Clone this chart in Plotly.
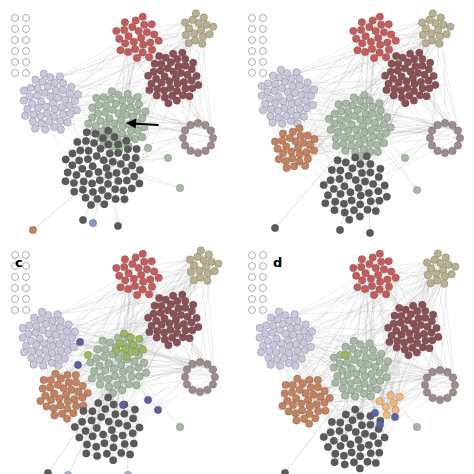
import numpy as np
import plotly.graph_objects as go
from plotly.subplots import make_subplots

# cluster tables per panel: (cx, cy, count, radius, colour, ring)
panel_a = [(130,30,26,23,'#c65b5b',0),(190,22,16,17,'#b8b08e',0),(165,70,45,27,'#8b5055',0),
           (42,95,50,30,'#c9c6de',0),(110,112,55,31,'#a6b9a3',0),(95,160,65,40,'#5a5a5a',0),
           (190,130,12,15,'#9e8b8c',1)]
panel_b = [(130,30,26,23,'#c65b5b',0),(190,22,16,17,'#b8b08e',0),(165,70,45,27,'#8b5055',0),
           (42,90,50,29,'#c9c6de',0),(115,118,60,32,'#a6b9a3',0),(50,140,28,22,'#c4825e',0),
           (110,180,45,34,'#5a5a5a',0),(200,130,12,15,'#9e8b8c',1)]
panel_c = [(130,30,26,23,'#c65b5b',0),(195,22,16,17,'#b8b08e',0),(165,75,45,27,'#8b5055',0),
           (40,95,50,29,'#c9c6de',0),(110,120,45,30,'#a6b9a3',0),(122,100,10,15,'#9cb85a',0),
           (55,150,35,25,'#c4825e',0),(100,185,40,34,'#5a5a5a',0),(192,132,12,15,'#9e8b8c',1)]
panel_d = [(130,30,26,23,'#c65b5b',0),(195,25,16,17,'#b8b08e',0),(168,85,45,27,'#8b5055',0),
           (40,95,50,29,'#c9c6de',0),(115,125,50,30,'#a6b9a3',0),(60,155,35,25,'#c4825e',0),
           (110,195,40,32,'#5a5a5a',0),(145,158,7,13,'#f0b97a',0),(195,140,12,15,'#9e8b8c',1)]
singles_a = [(75,212,'#5a5a5a'),(110,218,'#5a5a5a'),(85,215,'#8a95c8'),(25,222,'#c4825e'),
             (172,180,'#a6b9a3'),(160,150,'#a6b9a3'),(140,140,'#a6b9a3')]
singles_b = [(30,220,'#5a5a5a'),(125,225,'#5a5a5a'),(95,222,'#5a5a5a'),(172,182,'#a6b9a3'),(160,150,'#a6b9a3')]
singles_c = [(70,120,'#5c5f9e'),(72,97,'#5c5f9e'),(150,165,'#5c5f9e'),(140,155,'#5c5f9e'),
             (115,160,'#5c5f9e'),(60,230,'#a8b0d8'),(120,230,'#a8b0d8'),(40,228,'#5a5a5a'),
             (172,182,'#a6b9a3'),(80,110,'#9cb85a')]
singles_d = [(130,168,'#5b64a8'),(135,180,'#5b64a8'),(150,172,'#5b64a8'),(40,228,'#5a5a5a'),
             (172,182,'#a6b9a3'),(100,110,'#9cb85a')]
iso_x = [7,18]
iso_y = [10,21,32,43,54,65]
panels = [panel_a, panel_b, panel_c, panel_d]
singles = [singles_a, singles_b, singles_c, singles_d]

fig = make_subplots(rows=2, cols=2, horizontal_spacing=0.0, vertical_spacing=0.0)
GA = np.pi*(3-np.sqrt(5))
for p,(cl,sg) in enumerate(zip(panels,singles)):
    r_, c_ = p//2+1, p%2+1
    groups = []
    for cx,cy,n,rad,col,ring in cl:
        k = np.arange(n)
        if ring:
            a = 2*np.pi*k/n; rr = np.full(n, rad)
        else:
            a = k*GA; rr = rad*np.sqrt((k+0.5)/n)
        groups.append((cx+rr*np.cos(a), cy+rr*np.sin(a), col))
    ex, ey = [], []
    for gx,gy,_ in groups:
        pts = np.c_[gx,gy]
        d = np.linalg.norm(pts[:,None]-pts[None],axis=2)
        for i in range(len(pts)):
            for j in np.argsort(d[i])[1:6]:
                ex += [gx[i],gx[j],None]; ey += [gy[i],gy[j],None]
    for i in range(len(groups)):
        for j in range(i+1,len(groups)):
            ax_,ay_,_ = groups[i]; bx,by,_ = groups[j]
            for t in range(6):
                u=(t*7)%len(ax_); v=(t*11)%len(bx)
                ex += [ax_[u],bx[v],None]; ey += [ay_[u],by[v],None]
    for sx,sy,_ in sg:
        gx,gy,_ = groups[4] if p!=0 else groups[5]
        for t in range(2):
            ex += [sx,gx[t*5],None]; ey += [sy,gy[t*5],None]
    fig.add_trace(go.Scatter(x=ex,y=ey,mode='lines',line=dict(color='rgba(150,150,150,0.35)',width=0.5),hoverinfo='skip'),r_,c_)
    fig.add_trace(go.Scatter(x=[x for x in iso_x for _ in iso_y], y=iso_y*2, mode='markers',
        marker=dict(size=7,color='white',line=dict(color='#999',width=0.8))),r_,c_)
    for gx,gy,col in groups:
        fig.add_trace(go.Scatter(x=gx,y=gy,mode='markers',marker=dict(size=7.5,color=col,line=dict(color='rgba(80,80,80,0.5)',width=0.5))),r_,c_)
    fig.add_trace(go.Scatter(x=[s[0] for s in sg],y=[s[1] for s in sg],mode='markers',
        marker=dict(size=7.5,color=[s[2] for s in sg],line=dict(color='rgba(80,80,80,0.5)',width=0.5))),r_,c_)
    fig.update_xaxes(range=[0,237],visible=False,row=r_,col=c_)
    fig.update_yaxes(range=[237,0],visible=False,row=r_,col=c_)

fig.add_annotation(x=118,y=115,ax=152,ay=117,xref='x',yref='y',axref='x',ayref='y',
                   showarrow=True,arrowhead=2,arrowsize=1,arrowwidth=2,arrowcolor='black',text='')
for t,x in [('c',0.01),('d',0.555)]:
    fig.add_annotation(text='<b>'+t+'</b>',x=x,y=1-254/474,xref='paper',yref='paper',showarrow=False,
                       font=dict(size=13,color='black',family='DejaVu Sans'),xanchor='left')
fig.update_layout(width=474,height=474,margin=dict(l=0,r=0,t=0,b=0),showlegend=False,
                  plot_bgcolor='white',paper_bgcolor='white')
fig.write_html('out.html')
